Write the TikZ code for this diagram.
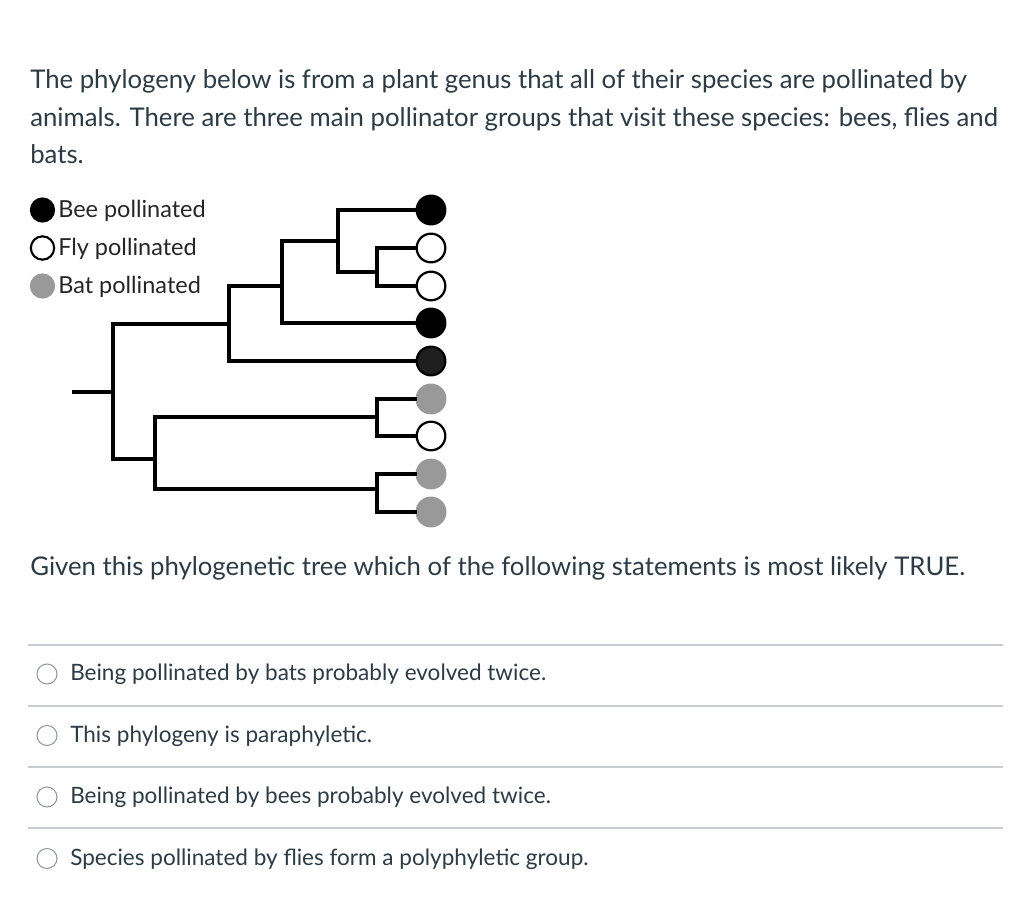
\documentclass[tikz,border=0pt]{standalone}
\usepackage{fontspec}
\setmainfont{Lato}
\definecolor{txt}{HTML}{2D3B45}
\definecolor{sep}{HTML}{C7CDD1}
\definecolor{radio}{HTML}{8B969E}
\definecolor{batgray}{HTML}{999999}
\begin{document}
\begin{tikzpicture}[x=0.75pt,y=-0.75pt,
  para/.style={anchor=base west,inner sep=0pt,text=txt,font=\fontsize{19.3pt}{23pt}\selectfont},
  opt/.style={anchor=base west,inner sep=0pt,text=txt,font=\fontsize{16.9pt}{20pt}\selectfont},
  leg/.style={anchor=base west,inner sep=0pt,text=black!85,font=\fontsize{17.6pt}{20pt}\selectfont},
  branch/.style={line width=2.3pt,line cap=rect},
  leaf/.style={circle,minimum size=21.5pt,inner sep=0pt,line width=1.7pt},
  bee/.style={leaf,fill=black,draw=black},
  fly/.style={leaf,fill=white,draw=black},
  bat/.style={leaf,fill=batgray,draw=batgray},
  lbee/.style={circle,minimum size=17.5pt,inner sep=0pt,fill=black,draw=black,line width=1.4pt},
  lfly/.style={circle,minimum size=17.5pt,inner sep=0pt,fill=white,draw=black,line width=1.6pt},
  lbat/.style={circle,minimum size=17.5pt,inner sep=0pt,fill=batgray,draw=batgray,line width=1.4pt},
  radiob/.style={circle,minimum size=15pt,inner sep=0pt,draw=radio,line width=0.75pt,fill=white},
  sepline/.style={draw=sep,line width=0.9pt}]
\useasboundingbox[fill=white] (0,0) rectangle (1024,913);

% paragraph
\node[para] (p1) at (30,89) {The phylogeny below is from a plant genus that all of their species are pollinated by};
\node[para] (p2) at (30,127) {animals. There are three main pollinator groups that visit these species: bees, flies and};
\node[para] (p3) at (30,164) {bats.};

% legend
\node[lbee] (kbee) at (42.5,210) {};
\node[lfly] (kfly) at (42.5,248) {};
\node[lbat] (kbat) at (42.5,286) {};
\node[leg] (tbee) at (58,217) {Bee pollinated};
\node[leg] (tfly) at (58,255) {Fly pollinated};
\node[leg] (tbat) at (58,293) {Bat pollinated};

% internal nodes
\coordinate (root) at (74,392);
\coordinate (r) at (113,392);
\coordinate (a) at (229,324);
\coordinate (b) at (282,286);
\coordinate (c) at (338,241);
\coordinate (d) at (377,272);
\coordinate (e) at (155,459);
\coordinate (f) at (377,417);
\coordinate (g) at (377,489);

% leaves
\node[bee] (l1) at (431,210) {};
\node[fly] (l2) at (431,248) {};
\node[fly] (l3) at (431,286) {};
\node[bee] (l4) at (431,323) {};
\node[bee,fill=black!88] (l5) at (431,361) {};
\node[bat] (l6) at (431,399) {};
\node[fly] (l7) at (431,436) {};
\node[bat] (l8) at (431,474) {};
\node[bat] (l9) at (431,512) {};

% branches
\draw[branch] (root) -- (r);
\draw[branch] (a) -| (r) |- (e);
\draw[branch] (b) -| (a) |- (l5.west);
\draw[branch] (c) -| (b) |- (l4.west);
\draw[branch] (l1.west) -| (c) |- (d);
\draw[branch] (l2.west) -| (d) |- (l3.west);
\draw[branch] (f) -| (e) |- (g);
\draw[branch] (l6.west) -| (f) |- (l7.west);
\draw[branch] (l8.west) -| (g) |- (l9.west);

% question
\node[para] (q) at (30,575) {Given this phylogenetic tree which of the following statements is most likely TRUE.};

% separators and options
\coordinate (s1a) at (28,645); \coordinate (s1b) at (1003,645);
\coordinate (s2a) at (28,706); \coordinate (s2b) at (1003,706);
\coordinate (s3a) at (28,767); \coordinate (s3b) at (1003,767);
\coordinate (s4a) at (28,828); \coordinate (s4b) at (1003,828);
\draw[sepline] (s1a) -- (s1b);
\draw[sepline] (s2a) -- (s2b);
\draw[sepline] (s3a) -- (s3b);
\draw[sepline] (s4a) -- (s4b);

\node[radiob] (rb1) at (47,674) {};
\node[radiob] (rb2) at (47,735.5) {};
\node[radiob] (rb3) at (47,797) {};
\node[radiob] (rb4) at (47,858.5) {};
\node[opt] (o1) at (70,680.5) {Being pollinated by bats probably evolved twice.};
\node[opt] (o2) at (70,742) {This phylogeny is paraphyletic.};
\node[opt] (o3) at (70,803.5) {Being pollinated by bees probably evolved twice.};
\node[opt] (o4) at (70,865) {Species pollinated by flies form a polyphyletic group.};
\end{tikzpicture}
\end{document}
